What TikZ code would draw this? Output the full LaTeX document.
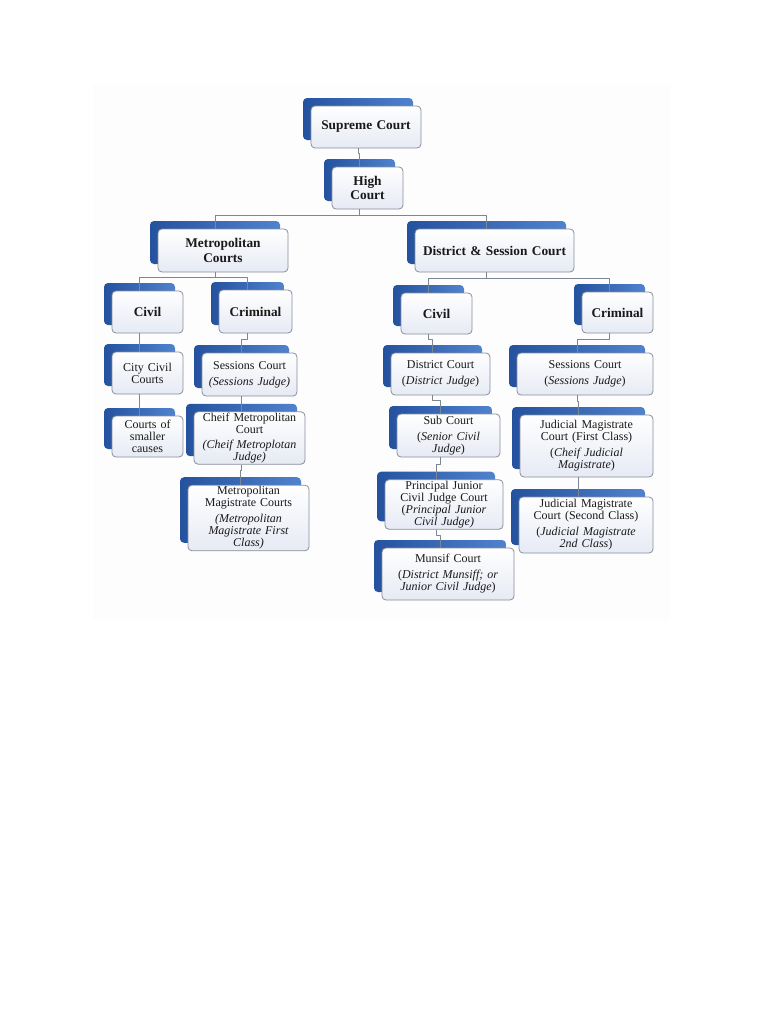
\documentclass[tikz,border=0pt]{standalone}
\usepackage{fontspec}
\setmainfont{Liberation Serif}
\usetikzlibrary{calc,shadows}

\definecolor{boxline}{RGB}{135,142,155}
\definecolor{boxfill}{RGB}{230,234,244}
\definecolor{tabdark}{RGB}{36,82,158}
\definecolor{tablight}{RGB}{80,130,206}
\definecolor{linkgray}{RGB}{125,135,148}

\begin{document}
\begin{tikzpicture}[
    x=0.75pt, y=-0.75pt, line join=round,
    court/.style={draw=boxline, line width=0.6pt, rounded corners=3pt,
      top color=white, bottom color=boxfill, text=black!90,
      align=center, inner xsep=2pt, inner ysep=1pt,
      general shadow={shadow xshift=-6pt, shadow yshift=6pt,
        left color=tabdark, right color=tablight, draw=none}},
    head/.style={court, font=\bfseries\fontsize{10}{11}\selectfont},
    body/.style={court, font=\fontsize{9}{9}\selectfont},
    dims/.code 2 args={%
      \pgfmathsetmacro\boxw{0.75*#1-4}%
      \pgfmathsetmacro\boxh{0.75*#2}%
      \edef\boxset{\noexpand\tikzset{text width=\boxw pt,
          minimum height=\boxh pt}}\boxset},
    link/.style={draw=linkgray, line width=0.6pt},
    elbow/.style={to path={([xshift=-6pt]\tikztostart.south)
        |- ($([xshift=-6pt]\tikztostart.south)!0.3!([xshift=-6pt]\tikztotarget.north)$)
        -| ([xshift=-6pt]\tikztotarget.north)}}
  ]

  % ------------------ Page ------------------
  \useasboundingbox (0,0) rectangle (768,1024);
  \fill[white] (0,0) rectangle (768,1024);
  \fill[black!0.8] (93,85) rectangle (670,620);

  % ------------------ Top of the tree ------------------
  \node[head, dims={110}{42}] (supreme) at (366,127) {Supreme Court};
  \node[head, dims={71}{42}] (high) at (367.5,188) {High\\Court};

  \node[head, dims={130}{43}] (metro) at (223,250.5) {Metropolitan\\Courts};
  \node[head, dims={159}{43}] (dsc) at (494.5,250.5)
  {District \& Session Court};

  % ------------------ Metropolitan side ------------------
  \node[head, dims={71}{42}] (mcivil) at (147.5,312) {Civil};
  \node[head, dims={73}{43}] (mcrim) at (255.5,311.5) {Criminal};

  \node[body, dims={71}{42}] (citycivil) at (147.5,373) {City Civil\\Courts};
  \node[body, dims={71}{41}] (smaller) at (147.5,436.5)
  {Courts of\\smaller\\causes};

  \node[body, dims={95}{43}] (msessions) at (249.5,374.5)
  {Sessions Court\\[3pt]\textit{(Sessions Judge)}};
  \node[body, dims={111}{52}] (cmm) at (249.5,438)
  {Cheif Metropolitan\\Court\\[2pt]{\itshape (Cheif Metroplotan\\Judge)}};
  \node[body, dims={121}{62}] (mmc) at (248.5,518)
  {Metropolitan\\Magistrate Courts\\[3pt]{\itshape (Metropolitan\\Magistrate
  First\\Class)}};

  % ------------------ District side ------------------
  \node[head, dims={71}{41}] (dcivil) at (436.5,313.5) {Civil};
  \node[head, dims={71}{41}] (dcrim) at (617.5,312.5) {Criminal};

  \node[body, dims={99}{42}] (dcourt) at (440.5,374)
  {District Court\\[3pt](\textit{District Judge})};
  \node[body, dims={103}{43}] (subcourt) at (448.5,435.5)
  {Sub Court\\[3pt](\textit{Senior Civil\\Judge})};
  \node[body, dims={118}{49}] (pjc) at (444,504.5)
  {Principal Junior\\Civil Judge Court\\({\itshape Principal Junior\\Civil
  Judge)}};
  \node[body, dims={132}{52}] (munsif) at (448,574)
  {Munsif Court\\[3pt](\textit{District Munsiff; or\\Junior Civil Judge})};

  \node[body, dims={136}{42}] (dsessions) at (585,374)
  {Sessions Court\\[3pt](\textit{Sessions Judge})};
  \node[body, dims={133}{62}] (jmfirst) at (586.5,446)
  {Judicial Magistrate\\Court (First Class)\\[3pt](\textit{Cheif
  Judicial\\Magistrate})};
  \node[body, dims={134}{56}] (jmsecond) at (586,525)
  {Judicial Magistrate\\Court (Second Class)\\[3pt](\textit{Judicial
  Magistrate\\2nd Class})};

  % ------------------ Connectors ------------------
  \draw[link] (supreme) to[elbow] (high);
  \draw[link] (high) to[elbow] (metro);
  \draw[link] (high) to[elbow] (dsc);

  \draw[link] (metro) to[elbow] (mcivil);
  \draw[link] (metro) to[elbow] (mcrim);
  \draw[link] (mcivil) to[elbow] (citycivil);
  \draw[link] (citycivil) to[elbow] (smaller);
  \draw[link] (mcrim) to[elbow] (msessions);
  \draw[link] (msessions) to[elbow] (cmm);
  \draw[link] (cmm) to[elbow] (mmc);

  \draw[link] (dsc) to[elbow] (dcivil);
  \draw[link] (dsc) to[elbow] (dcrim);
  \draw[link] (dcivil) to[elbow] (dcourt);
  \draw[link] (dcourt) to[elbow] (subcourt);
  \draw[link] (subcourt) to[elbow] (pjc);
  \draw[link] (pjc) to[elbow] (munsif);
  \draw[link] (dcrim) to[elbow] (dsessions);
  \draw[link] (dsessions) to[elbow] (jmfirst);
  \draw[link] (jmfirst) to[elbow] (jmsecond);

\end{tikzpicture}
\end{document}
